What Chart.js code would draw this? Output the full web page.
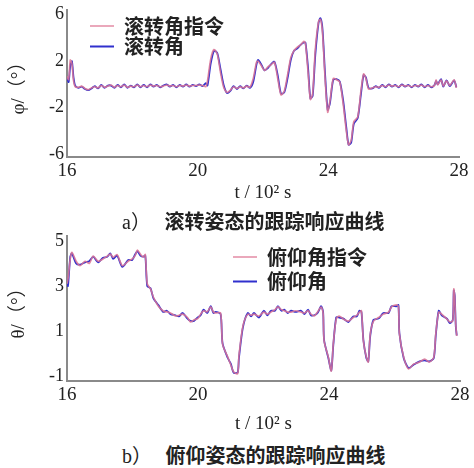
<!DOCTYPE html>
<html>
<head>
<meta charset="utf-8">
<script src="https://cdn.jsdelivr.net/npm/chart.js@4.4.0/dist/chart.umd.min.js"></script>
<style>
body{margin:0;background:#fff;width:474px;height:468px;position:relative;overflow:hidden}
.box{position:absolute;left:0;width:474px}
.cap{position:absolute;left:122px;line-height:24px;font:bold 20px "Noto Sans CJK SC";color:#222;white-space:pre}
.cap span{font:20px "Liberation Serif","Noto Sans CJK SC"}
</style>
</head>
<body>
<div class="box" style="top:0;height:205px"><canvas id="rollChart"></canvas></div>
<div class="box" style="top:215px;height:225px"><canvas id="pitchChart"></canvas></div>
<div class="cap" style="top:206px"><span>a）</span>   滚转姿态的跟踪响应曲线</div>
<div class="cap" style="top:440px"><span>b）</span>   俯仰姿态的跟踪响应曲线</div>
<script>
// time axis in 10^2 s
let xTicks = [16, 20, 24, 28];

// roll: command and measured
let tRoll = [16.00,16.05,16.10,16.15,16.20,16.25,16.35,16.45,16.55,16.65,
  16.75,16.85,16.95,17.05,17.15,17.25,17.35,17.45,17.55,17.65,
  17.75,17.85,17.95,18.05,18.15,18.25,18.35,18.45,18.55,18.65,
  18.75,18.85,18.95,19.05,19.15,19.25,19.35,19.45,19.55,19.65,
  19.75,19.85,19.95,20.05,20.15,20.25,20.30,20.40,20.50,20.60,
  20.70,20.80,20.90,21.00,21.10,21.20,21.30,21.40,21.50,21.60,
  21.70,21.80,21.85,21.95,22.05,22.15,22.25,22.35,22.45,22.55,
  22.65,22.75,22.85,22.95,23.05,23.15,23.25,23.30,23.38,23.45,
  23.52,23.60,23.70,23.76,23.82,23.90,23.98,24.05,24.15,24.25,
  24.35,24.45,24.55,24.62,24.70,24.78,24.90,25.00,25.08,25.15,
  25.23,25.35,25.45,25.55,25.65,25.75,25.85,25.95,26.05,26.15,
  26.25,26.35,26.45,26.55,26.65,26.75,26.85,26.95,27.05,27.15,
  27.25,27.30,27.35,27.45,27.52,27.62,27.72,27.85,27.92];
let rollCmd = [0.7,0.4,2.1,1.8,0.3,-0.2,-0.25,-0.15,-0.35,-0.45,
  -0.3,-0.2,-0.3,-0.1,-0.25,-0.15,-0.05,-0.25,-0.1,-0.2,
  -0.05,-0.25,-0.15,-0.2,-0.05,-0.2,-0.1,-0.2,-0.05,-0.15,
  -0.1,-0.2,-0.15,-0.05,-0.15,-0.1,-0.2,-0.1,-0.15,-0.05,
  -0.15,-0.1,-0.1,-0.05,-0.1,-0.2,0.3,2.2,3.0,2.6,
  1.0,-0.3,-0.7,-0.5,-0.2,-0.35,-0.2,-0.3,-0.15,-0.25,
  0.5,1.9,2.0,1.6,1.2,1.5,1.7,1.9,0.5,-0.9,
  -0.6,0.8,2.3,2.9,3.2,3.4,3.7,3.5,1.0,-1.3,
  -0.8,3.0,5.4,5.6,4.5,0.5,-2.4,-1.4,0.5,0.4,
  0.2,-1.6,-4.0,-5.2,-4.8,-3.2,-2.8,-0.5,0.9,0.5,
  -0.4,-0.3,-0.2,-0.25,-0.1,-0.2,-0.05,-0.15,-0.1,-0.2,
  -0.05,-0.15,-0.1,-0.2,-0.1,-0.15,-0.05,-0.2,-0.1,-0.2,
  -0.1,0.4,-0.05,0.4,-0.15,0.3,-0.1,0.4,-0.3];
let rollAct = [0.6,0.2,1.6,2.0,0.6,-0.1,-0.3,-0.2,-0.4,-0.5,
  -0.35,-0.15,-0.35,-0.05,-0.3,-0.1,-0.1,-0.3,-0.05,-0.25,
  0.0,-0.3,-0.1,-0.25,0.0,-0.25,-0.05,-0.25,0.0,-0.2,
  -0.05,-0.25,-0.1,0.0,-0.2,-0.05,-0.25,-0.05,-0.2,0.0,
  -0.2,-0.05,-0.15,0.0,-0.15,0.1,-0.1,1.8,2.9,2.7,
  1.3,-0.1,-0.75,-0.55,-0.15,-0.4,-0.15,-0.35,-0.1,-0.3,
  0.2,1.7,2.1,1.7,1.2,1.4,1.75,1.95,0.8,-0.8,
  -0.7,0.5,2.1,2.9,3.1,3.4,3.6,3.6,1.4,-1.2,
  -1.0,2.5,5.3,5.7,4.8,0.9,-2.2,-1.6,0.4,0.45,
  0.25,-1.3,-3.7,-5.2,-5.0,-3.4,-2.9,-0.8,0.8,0.6,
  -0.3,-0.35,-0.15,-0.3,-0.05,-0.25,0.0,-0.2,-0.05,-0.25,
  0.0,-0.2,-0.05,-0.25,-0.05,-0.2,0.0,-0.25,-0.05,-0.25,
  -0.05,0.3,0.0,0.45,-0.2,0.35,-0.15,0.35,-0.25];
let rollTicks = [-6, -2, 2, 6];

// pitch: command and measured
let tPitch = [16.00,16.03,16.10,16.15,16.28,16.40,16.55,16.68,16.80,16.95,
  17.10,17.23,17.32,17.41,17.53,17.69,17.87,17.99,18.08,18.15,
  18.24,18.33,18.39,18.45,18.55,18.64,18.79,18.94,19.05,19.16,
  19.31,19.42,19.53,19.68,19.77,19.88,19.99,20.08,20.17,20.28,
  20.39,20.47,20.54,20.69,20.75,20.91,21.00,21.09,21.21,21.25,
  21.37,21.52,21.62,21.71,21.86,22.01,22.12,22.23,22.35,22.44,
  22.55,22.63,22.74,22.84,22.98,23.15,23.25,23.36,23.45,23.55,
  23.65,23.76,23.82,23.85,23.98,24.07,24.13,24.22,24.31,24.44,
  24.59,24.74,24.85,24.93,24.99,25.05,25.14,25.20,25.26,25.36,
  25.51,25.66,25.82,25.91,26.06,26.12,26.15,26.28,26.43,26.58,
  26.77,26.92,27.07,27.20,27.26,27.35,27.44,27.60,27.69,27.78,
  27.81,27.84,27.87,27.90];
let pitchCmd = [3.1,3.3,4.2,4.5,4.1,3.9,4.1,4.0,4.33,4.1,
  4.2,4.33,4.42,4.28,4.4,3.9,4.1,4.2,4.35,4.6,
  4.42,4.28,4.4,3.1,2.87,2.5,2.1,1.89,1.85,1.8,
  1.67,1.7,1.75,1.6,1.4,1.5,1.55,1.75,1.9,1.85,
  2.07,1.85,1.8,1.8,0.42,-0.16,-0.5,-0.82,-0.9,-0.1,
  1.22,1.75,1.7,1.75,1.67,1.84,1.75,1.84,1.95,2.07,
  1.95,1.9,1.84,1.84,1.9,1.84,1.8,1.9,1.75,1.67,
  1.85,2.07,1.8,0.56,-0.16,-0.78,0.42,1.53,1.67,1.53,
  1.44,1.6,1.7,1.84,1.9,0.56,-0.16,-0.38,0.87,1.44,
  1.6,1.75,1.84,2.07,2.16,2.1,0.87,-0.16,-0.69,-0.47,
  -0.38,-0.24,-0.38,-0.16,0.87,1.84,1.75,1.53,1.4,1.45,
  2.87,2.5,1.3,0.78];
let pitchAct = [3.3,3.0,4.3,4.45,4.0,3.95,4.05,4.1,4.3,4.05,
  4.25,4.3,4.45,4.2,4.35,3.85,4.15,4.15,4.4,4.55,
  4.35,4.3,4.35,3.0,2.9,2.45,2.15,1.85,1.9,1.75,
  1.7,1.65,1.8,1.55,1.45,1.45,1.6,1.7,1.95,1.8,
  2.1,1.8,1.85,1.75,0.45,-0.2,-0.45,-0.85,-0.85,-0.2,
  1.15,1.8,1.65,1.8,1.6,1.9,1.7,1.9,1.9,2.1,
  1.9,1.95,1.8,1.9,1.85,1.9,1.75,1.95,1.7,1.7,
  1.8,2.1,1.85,0.6,-0.2,-0.75,0.35,1.6,1.6,1.55,
  1.4,1.65,1.65,1.9,1.85,0.6,-0.2,-0.35,0.8,1.5,
  1.55,1.8,1.8,2.1,2.1,2.15,0.9,-0.2,-0.65,-0.5,
  -0.35,-0.3,-0.35,-0.2,0.8,1.9,1.7,1.55,1.35,1.5,
  2.8,2.55,1.25,0.8];
let pitchTicks = [-1, 1, 3, 5];

let serif = "'Liberation Serif', 'Noto Sans CJK SC'";
let pink = "rgba(222,118,148,0.85)";
let blue = "rgb(48,48,205)";

// moves the legend box inside the plot area
let legendShift = {
  id: "legendShift",
  afterLayout(chart, args, opts) {
    let lg = chart.legend;
    lg.left += opts.dx; lg.right += opts.dx;
    lg.top += opts.dy; lg.bottom += opts.dy;
  }
};

function pts(t, v) {
  return t.map((x, i) => ({x: x, y: v[i]}));
}

function makeChart(id, t, cmd, act, names, yMin, yMax, yTicks, yTitle, s) {
  return new Chart(id, {
    type: "line",
    data: {
      datasets: [
        {label: names[0], data: pts(t, cmd), borderColor: pink, borderWidth: 1.6, pointRadius: 0, pointStyle: "line", tension: 0.25},
        {label: names[1], data: pts(t, act), borderColor: blue, borderWidth: 1.8, pointRadius: 0, pointStyle: "line", tension: 0.25}
      ]
    },
    options: {
      responsive: true,
      maintainAspectRatio: false,
      animation: false,
      layout: {padding: {top: s.top, right: s.right, left: 0, bottom: 0}},
      plugins: {
        tooltip: {enabled: false},
        legend: {
          position: "chartArea",
          align: "start",
          labels: {
            usePointStyle: true, pointStyleWidth: 24, padding: s.lp,
            color: "#222",
            font: {family: "'Noto Sans CJK SC'", size: 20, weight: "bold"}
          }
        },
        legendShift: {dx: s.dx, dy: s.dy}
      },
      scales: {
        x: {
          type: "linear", min: 16, max: 28,
          afterBuildTicks: (sc) => { sc.ticks = xTicks.map(v => ({value: v})); },
          afterFit: (sc) => { sc.height = s.xh; sc.paddingLeft = 0; sc.paddingRight = 0; },
          grid: {display: true, drawOnChartArea: false, drawTicks: false},
          border: {color: "#8a8a8a", width: 2},
          ticks: {color: "#222", padding: 3, maxRotation: 0, font: {family: serif, size: 19}},
          title: {display: true, text: "t / 10² s", color: "#222", padding: {top: 0, bottom: s.tp}, font: {family: serif, size: 19}}
        },
        y: {
          min: yMin, max: yMax,
          afterBuildTicks: (sc) => { sc.ticks = yTicks.map(v => ({value: v})); },
          afterFit: (sc) => { sc.width = 67; sc.paddingTop = 0; sc.paddingBottom = 0; },
          grid: {display: true, drawOnChartArea: false, drawTicks: false},
          border: {color: "#8a8a8a", width: 2},
          ticks: {color: "#222", padding: 3, font: {family: serif, size: 18}},
          title: {display: true, text: yTitle, color: "#222", padding: {top: 8, bottom: 0}, font: {family: serif, size: 19}}
        }
      }
    },
    plugins: [legendShift]
  });
}

makeChart("rollChart", tRoll, rollCmd, rollAct, ["滚转角指令", "滚转角"], -6.25, 6.4, rollTicks, "φ/（°）",
  {top: 10, right: 15, xh: 48, tp: 1, lp: 0.5, dx: 22.5, dy: 15.5});
makeChart("pitchChart", tPitch, pitchCmd, pitchAct, ["俯仰角指令", "俯仰角"], -1.22, 5.22, pitchTicks, "θ/（°）",
  {top: 21, right: 14, xh: 59, tp: 5, lp: 4.5, dx: 161.5, dy: 27.5});
</script>
</body>
</html>
